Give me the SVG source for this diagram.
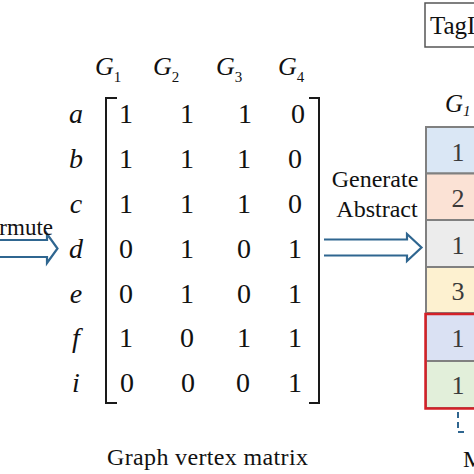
<svg xmlns="http://www.w3.org/2000/svg" width="474" height="474" viewBox="0 0 474 474" font-family="Liberation Serif, Times New Roman, serif">
<style>
.t{fill:#111}
.it{font-style:italic}
.m{font-size:28px;text-anchor:middle}
.lbl{font-size:24px}
.cell{font-size:26px;fill:#3a3a3a;text-anchor:middle}
.br{fill:none;stroke:#1a1a1a;stroke-width:2}
.arr{fill:none;stroke:#2f6690;stroke-width:2.2;stroke-linejoin:miter}
.row{stroke:#808080;stroke-width:2}
</style>
<rect width="474" height="474" fill="#ffffff"/>

<g id="tag-box">
<rect x="425" y="3" width="60" height="44" fill="#ffffff" stroke="#555555" stroke-width="1.5"/>
<text class="t" x="430" y="34" font-size="25" font-family="Liberation Serif">TagI</text>
</g>

<g id="matrix" font-family="Liberation Serif">
<g id="col-headers" class="t it" font-size="26">
<text x="95" y="75">G<tspan font-size="15" font-style="normal" dy="7">1</tspan></text>
<text x="153" y="75">G<tspan font-size="15" font-style="normal" dy="7">2</tspan></text>
<text x="216" y="75">G<tspan font-size="15" font-style="normal" dy="7">3</tspan></text>
<text x="278" y="75">G<tspan font-size="15" font-style="normal" dy="7">4</tspan></text>
</g>
<g id="row-labels" class="t it m">
<text x="76" y="123">a</text>
<text x="76" y="168">b</text>
<text x="76" y="213">c</text>
<text x="76" y="258">d</text>
<text x="76" y="303">e</text>
<text x="76" y="347">f</text>
<text x="76" y="392">i</text>
</g>
<path class="br" d="M117,98 H106 V403 H117"/>
<path class="br" d="M309,98 H319 V403 H309"/>
<g id="entries" class="t m">
<text x="126" y="123">1</text><text x="187" y="123">1</text><text x="245" y="123">1</text><text x="298" y="123">0</text>
<text x="126" y="168">1</text><text x="187" y="168">1</text><text x="244" y="168">1</text><text x="295" y="168">0</text>
<text x="126" y="213">1</text><text x="187" y="213">1</text><text x="244" y="213">1</text><text x="295" y="213">0</text>
<text x="126" y="258">0</text><text x="187" y="258">1</text><text x="244" y="258">0</text><text x="295" y="258">1</text>
<text x="126" y="303">0</text><text x="187" y="303">1</text><text x="244" y="303">0</text><text x="295" y="303">1</text>
<text x="126" y="347">1</text><text x="187" y="347">0</text><text x="244" y="347">1</text><text x="295" y="347">1</text>
<text x="127" y="392">0</text><text x="188" y="392">0</text><text x="243" y="392">0</text><text x="295" y="392">1</text>
</g>
<text class="t lbl" x="107" y="465" textLength="201">Graph vertex matrix</text>
</g>

<g id="table" font-family="Liberation Serif">
<text class="t it" x="445" y="112" font-size="25">G<tspan font-size="15" dy="4">1</tspan></text>
<rect class="row" x="426" y="127" width="60" height="46.5" fill="#dae7f5"/>
<rect class="row" x="426" y="173.5" width="60" height="46.5" fill="#fbe2d5"/>
<rect class="row" x="426" y="220" width="60" height="47" fill="#ececec"/>
<rect class="row" x="426" y="267" width="60" height="46" fill="#fdf1d0"/>
<rect class="row" x="426" y="313" width="60" height="48" fill="#dae1f3"/>
<rect class="row" x="426" y="361" width="60" height="47" fill="#e2efda"/>
<text class="cell" x="458" y="161">1</text>
<text class="cell" x="458" y="207">2</text>
<text class="cell" x="458" y="254">1</text>
<text class="cell" x="458" y="300">3</text>
<text class="cell" x="458" y="347">1</text>
<text class="cell" x="458" y="394">1</text>
<rect x="425.5" y="314" width="60" height="94.5" fill="none" stroke="#d42027" stroke-width="2.5"/>
<text class="t lbl" x="463" y="467">M</text>
</g>

<g id="connectors" font-family="Liberation Serif">
<path class="arr" d="M0,240 H47 V234 L57.5,248.5 L47,263 V257 H0"/>
<text class="t" x="53" y="235" font-size="23" text-anchor="end">Permute</text>
<path class="arr" d="M324,239.5 H407 V234 L421.5,247.5 L407,261 V255.5 H324"/>
<text class="t lbl" x="375" y="187" text-anchor="middle">Generate</text>
<text class="t lbl" x="377" y="217" text-anchor="middle">Abstract</text>
<path d="M458,412 V432 H468" fill="none" stroke="#2f6690" stroke-width="2" stroke-dasharray="6 4"/>
</g>
</svg>
